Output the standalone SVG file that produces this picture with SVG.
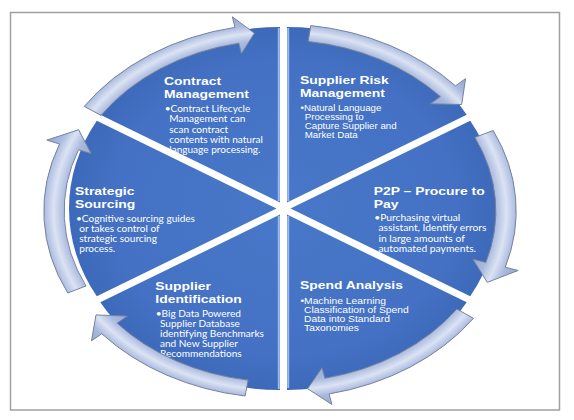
<svg xmlns="http://www.w3.org/2000/svg" width="574" height="420" viewBox="0 0 574 420">
<defs>
<radialGradient id="secGrad" gradientUnits="userSpaceOnUse" cx="283.5" cy="208.5" r="215" gradientTransform="translate(283.5 208.5) scale(1 0.85) translate(-283.5 -208.5)">
<stop offset="0" stop-color="#4878c9"/>
<stop offset="0.8" stop-color="#4471c3"/>
<stop offset="1" stop-color="#3d69ba"/>
</radialGradient>
<radialGradient id="ringGrad" gradientUnits="userSpaceOnUse" cx="280" cy="211" r="250" gradientTransform="translate(280 211) scale(1 0.792) translate(-280 -211)">
<stop offset="0.80" stop-color="#9aacd4"/>
<stop offset="0.86" stop-color="#a7b7dd"/>
<stop offset="0.905" stop-color="#dbe3f3"/>
<stop offset="0.945" stop-color="#aabadf"/>
<stop offset="1" stop-color="#96a8d2"/>
</radialGradient>
</defs>
<style>
.sec{fill:url(#secGrad);}
.hl{stroke:#9dbaf0;stroke-width:2;fill:none;}
.arrow{fill:url(#ringGrad);stroke:#76839c;stroke-width:1;stroke-linejoin:round;}
.title{font-family:"Liberation Sans",Arial,sans-serif;font-weight:bold;font-size:11.6px;fill:#ffffff;}
.body{font-family:Lato,"Open Sans",sans-serif;font-size:9px;fill:#ffffff;}
.bodyA{font-family:"Liberation Sans",Arial,sans-serif;font-size:8.2px;fill:#ffffff;}
</style>
<rect x="10.5" y="12.5" width="549" height="397.5" fill="#ffffff" stroke="#a0a0a0" stroke-width="1.5"/>

<g id="contract-management">
<path class="sec" d="M280,202.44 L100.3,114.69 A207.5,175.5 0 0 1 280,26.94 Z"/>
<line class="hl" x1="278.8" y1="28" x2="278.8" y2="201"/>
<g transform="translate(164,0) scale(1.12,1)">
<text class="title" transform="scale(1.07,1)"><tspan x="0" y="85">Contract</tspan><tspan x="0" y="97.6">Management</tspan></text>
<text class="body"><tspan x="0.6" y="112.5">•Contract Lifecycle</tspan><tspan x="4.7" y="122.5">Management can</tspan><tspan x="4.7" y="132.7">scan contract</tspan><tspan x="4.7" y="142.9">contents with natural</tspan><tspan x="4.7" y="152.9">language processing.</tspan></text>
</g>
</g>

<g id="supplier-risk-management">
<path class="sec" d="M287,202.44 L287,26.94 A207.5,175.5 0 0 1 466.7,114.69 Z"/>
<line class="hl" x1="288.2" y1="28" x2="288.2" y2="201"/>
<g transform="translate(300,0) scale(1.12,1)">
<text class="title" transform="scale(1.07,1)"><tspan x="0" y="84.3">Supplier Risk</tspan><tspan x="0" y="96.9">Management</tspan></text>
<text class="bodyA" transform="scale(1.06,1)"><tspan x="0.5" y="111.5">•Natural Language</tspan><tspan x="3.96" y="120.2">Processing to</tspan><tspan x="3.96" y="128.9">Capture Supplier and</tspan><tspan x="3.96" y="137.6">Market Data</tspan></text>
</g>
</g>

<g id="p2p-procure-to-pay">
<path class="sec" d="M290.5,208.5 L470.2,120.75 A207.5,175.5 0 0 1 470.2,296.25 Z"/>
<g transform="translate(373.7,0) scale(1.12,1)">
<text class="title" transform="scale(1.07,1)"><tspan x="0" y="195.3">P2P – Procure to</tspan><tspan x="0" y="207.9">Pay</tspan></text>
<text class="body" style="font-size:9.2px"><tspan x="0.5" y="221">•Purchasing virtual</tspan><tspan x="4.3" y="231.5">assistant, Identify errors</tspan><tspan x="4.3" y="241.7">in large amounts of</tspan><tspan x="4.3" y="251.8">automated payments.</tspan></text>
</g>
</g>

<g id="spend-analysis">
<path class="sec" d="M287,214.56 L466.7,302.31 A207.5,175.5 0 0 1 287,390.06 Z"/>
<line class="hl" x1="288.2" y1="216" x2="288.2" y2="388"/>
<g transform="translate(300,0) scale(1.12,1)">
<text class="title" transform="scale(1.07,1)"><tspan x="0" y="289.5">Spend Analysis</tspan></text>
<text class="bodyA" style="font-size:8.6px" transform="scale(1.07,1)"><tspan x="0.37" y="304">•Machine Learning</tspan><tspan x="3.36" y="313.2">Classification of Spend</tspan><tspan x="3.36" y="322.3">Data into Standard</tspan><tspan x="3.36" y="331.2">Taxonomies</tspan></text>
</g>
</g>

<g id="supplier-identification">
<path class="sec" d="M280,214.56 L280,390.06 A207.5,175.5 0 0 1 100.3,302.31 Z"/>
<line class="hl" x1="278.8" y1="216" x2="278.8" y2="389"/>
<g transform="translate(155.3,0) scale(1.12,1)">
<text class="title" transform="scale(1.07,1)"><tspan x="0" y="290">Supplier</tspan><tspan x="0" y="302.6">Identification</tspan></text>
<text class="body"><tspan x="0.4" y="316.7">•Big Data Powered</tspan><tspan x="4.2" y="326.9">Supplier Database</tspan><tspan x="4.2" y="337">identifying Benchmarks</tspan><tspan x="4.2" y="347.2">and New Supplier</tspan><tspan x="4.2" y="357.5">Recommendations</tspan></text>
</g>
</g>

<g id="strategic-sourcing">
<path class="sec" d="M276.5,208.5 L96.8,296.25 A207.5,175.5 0 0 1 96.8,120.75 Z"/>
<g transform="translate(75,0) scale(1.12,1)">
<text class="title" transform="scale(1.07,1)"><tspan x="0" y="195.1">Strategic</tspan><tspan x="0" y="207.7">Sourcing</tspan></text>
<text class="body"><tspan x="0.9" y="222.3">•Cognitive sourcing guides</tspan><tspan x="3.8" y="232.3">or takes control of</tspan><tspan x="3.8" y="242.3">strategic sourcing</tspan><tspan x="3.8" y="252.3">process.</tspan></text>
</g>
</g>

<g id="connectors">
<path class="arrow" d="M84.22,106.40 A236.17,187.06 0 0 1 234.94,27.38 L232.35,16.84 L254.42,33.15 L241.41,53.74 L238.82,43.20 A215.83,170.95 0 0 0 101.08,115.40 Z"/>
<path class="arrow" d="M310.82,25.55 A236.17,187.06 0 0 1 455.50,85.84 L465.57,78.65 L461.68,104.53 L430.31,103.80 L440.38,96.62 A215.83,170.95 0 0 0 308.17,41.52 Z"/>
<path class="arrow" d="M493.17,130.47 A236.17,187.06 0 0 1 505.24,267.25 L518.17,270.48 L487.26,282.37 L472.90,259.18 L485.84,262.40 A215.83,170.95 0 0 0 474.81,137.41 Z"/>
<path class="arrow" d="M473.47,318.30 A236.17,187.06 0 0 1 329.10,393.96 L331.92,404.47 L307.55,388.66 L322.05,367.70 L324.87,378.21 A215.83,170.95 0 0 0 456.81,309.06 Z"/>
<path class="arrow" d="M245.09,396.00 A236.17,187.06 0 0 1 101.76,333.73 L91.53,340.78 L96.01,314.95 L127.35,316.11 L117.11,323.16 A215.83,170.95 0 0 0 248.10,380.07 Z"/>
<path class="arrow" d="M67.73,293.01 A236.17,187.06 0 0 1 59.51,143.96 L46.85,140.11 L78.63,129.73 L91.16,153.58 L78.50,149.73 A215.83,170.95 0 0 0 86.01,285.94 Z"/>
</g>
</svg>
